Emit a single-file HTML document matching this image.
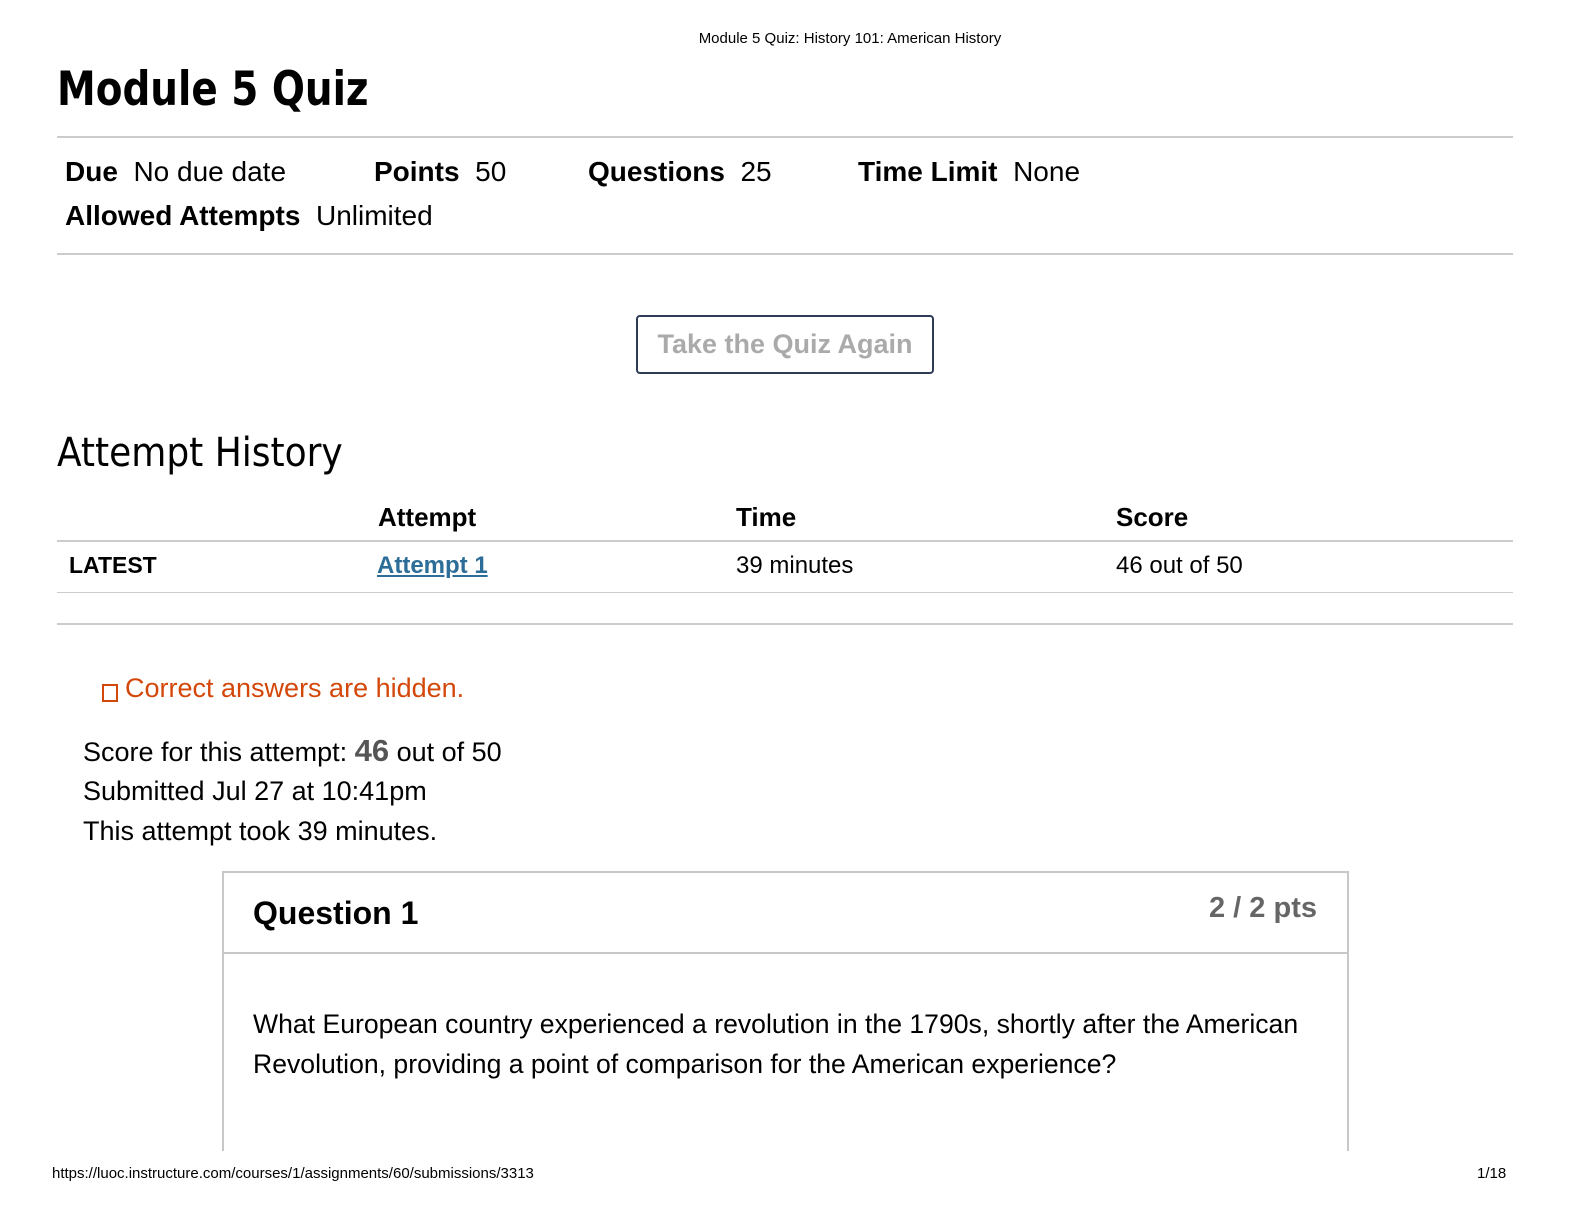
<!DOCTYPE html>
<html><head><meta charset="utf-8"><style>
html,body{margin:0;padding:0}
body{width:1584px;height:1224px;background:#fff;position:relative;font-family:"Liberation Sans",sans-serif;color:#000;overflow:hidden}
.a{position:absolute;white-space:nowrap}
.hr{position:absolute;left:57px;width:1456px;height:2px;background:#ccc}
b{font-weight:bold}
</style></head><body>
<div class="a" style="left:0;width:1700px;text-align:center;top:30px;font-size:15px">Module 5 Quiz: History 101: American History</div>
<div class="a" style="left:57px;top:62px;font-family:'DejaVu Sans Condensed','DejaVu Sans',sans-serif;font-weight:bold;font-size:47px;transform:scaleX(0.92);transform-origin:0 0">Module 5 Quiz</div>
<div class="hr" style="top:136px"></div>
<div class="a" style="left:65px;top:156px;font-size:28px"><b>Due</b>&nbsp; No due date</div>
<div class="a" style="left:374px;top:156px;font-size:28px"><b>Points</b>&nbsp; 50</div>
<div class="a" style="left:588px;top:156px;font-size:28px"><b>Questions</b>&nbsp; 25</div>
<div class="a" style="left:858px;top:156px;font-size:28px"><b>Time Limit</b>&nbsp; None</div>
<div class="a" style="left:65px;top:200px;font-size:28px"><b>Allowed Attempts</b>&nbsp; Unlimited</div>
<div class="hr" style="top:253px"></div>
<div class="a" style="left:636px;top:315px;width:294px;height:55px;border:2px solid #2d3b55;border-radius:4px;text-align:center;line-height:55px;font-size:27px;font-weight:bold;color:#aaa">Take the Quiz Again</div>
<div class="a" style="left:57px;top:430px;font-family:'DejaVu Sans Condensed','DejaVu Sans',sans-serif;font-size:40px">Attempt History</div>
<div class="a" style="left:378px;top:502px;font-size:26px;font-weight:bold">Attempt</div>
<div class="a" style="left:736px;top:502px;font-size:26px;font-weight:bold">Time</div>
<div class="a" style="left:1116px;top:502px;font-size:26px;font-weight:bold">Score</div>
<div class="hr" style="top:540px"></div>
<div class="a" style="left:69px;top:552px;font-size:23px;font-weight:bold">LATEST</div>
<div class="a" style="left:377px;top:552px;font-size:24px;font-weight:bold;color:#2d6e99;text-decoration:underline">Attempt 1</div>
<div class="a" style="left:736px;top:552px;font-size:24px">39 minutes</div>
<div class="a" style="left:1116px;top:552px;font-size:24px">46 out of 50</div>
<div class="hr" style="top:592px;height:1px"></div>
<div class="hr" style="top:623px"></div>
<div class="a" style="left:102px;top:684px;width:12px;height:14px;border:2px solid #d4470a"></div>
<div class="a" style="left:125px;top:673px;font-size:27px;color:#d4470a">Correct answers are hidden.</div>
<div class="a" style="left:83px;top:733px;font-size:27px">Score for this attempt: <b style="font-size:31px;color:#555">46</b> out of 50</div>
<div class="a" style="left:83px;top:776px;font-size:27px">Submitted Jul 27 at 10:41pm</div>
<div class="a" style="left:83px;top:816px;font-size:27px">This attempt took 39 minutes.</div>
<div class="a" style="left:222px;top:871px;width:1123px;height:300px;border:2px solid #c8c8c8;border-bottom:none"></div>
<div class="a" style="left:224px;top:952px;width:1123px;height:2px;background:#c8c8c8"></div>
<div class="a" style="left:253px;top:895px;font-size:32px;font-weight:bold">Question 1</div>
<div class="a" style="left:1209px;top:892px;font-size:29px;font-weight:bold;color:#666">2 / 2 pts</div>
<div class="a" style="left:253px;top:1004px;font-size:26.6px;line-height:40px">What European country experienced a revolution in the 1790s, shortly after the American<br>Revolution, providing a point of comparison for the American experience?</div>
<div class="a" style="left:0;top:1151px;width:1584px;height:73px;background:#fff"></div>
<div class="a" style="left:52px;top:1165px;font-size:15px">https://luoc.instructure.com/courses/1/assignments/60/submissions/3313</div>
<div class="a" style="left:1477px;top:1165px;font-size:15px">1/18</div>
</body></html>
